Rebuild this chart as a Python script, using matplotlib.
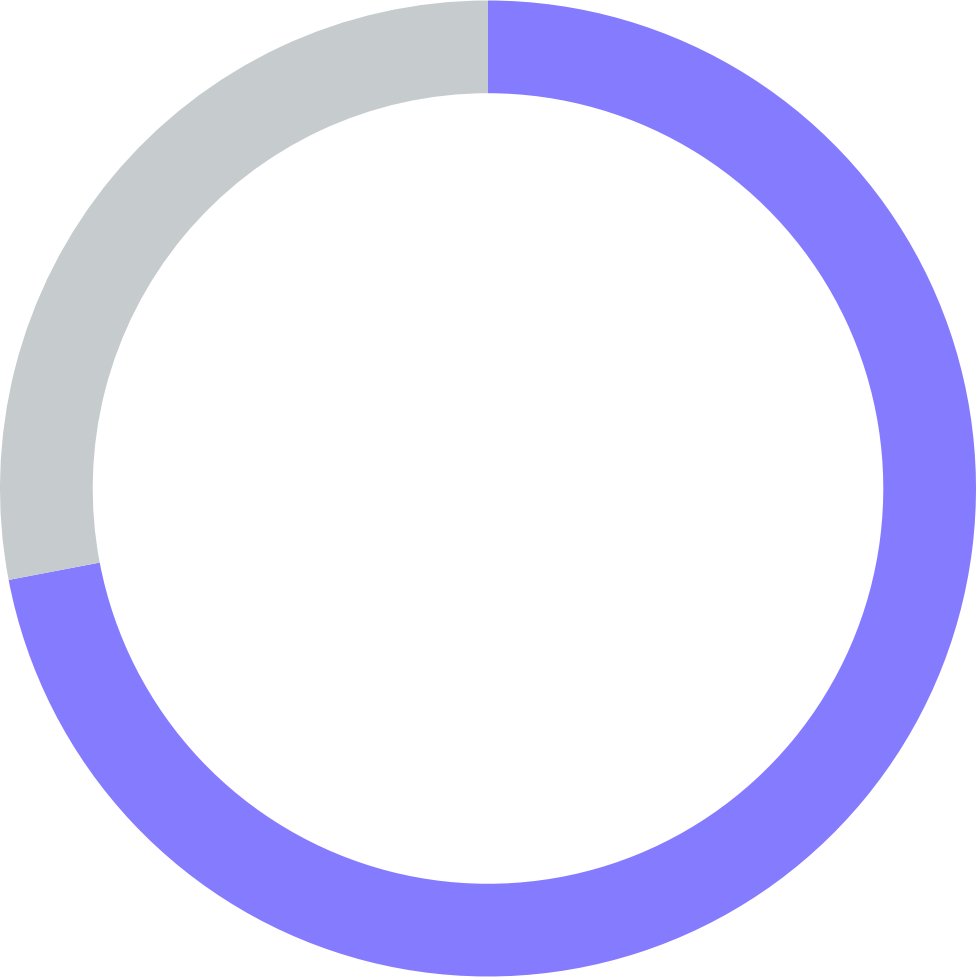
import matplotlib
matplotlib.use('Agg')
import matplotlib.pyplot as plt

labels = ['Completed', 'Remaining']
values = [72, 28]
colors = ['#857bff', '#c6cbce']

fig = plt.figure(figsize=(9.76, 9.77), dpi=100)
ax = fig.add_axes([0, 0, 1, 1])

ax.pie(values, colors=colors, startangle=90, counterclock=False,
       radius=1.0, wedgeprops=dict(width=0.19, edgecolor='none'))
ax.set_xlim(-1, 1)
ax.set_ylim(-1, 1)
ax.set_aspect('equal')
ax.axis('off')

fig.savefig('out.png', dpi=100)
